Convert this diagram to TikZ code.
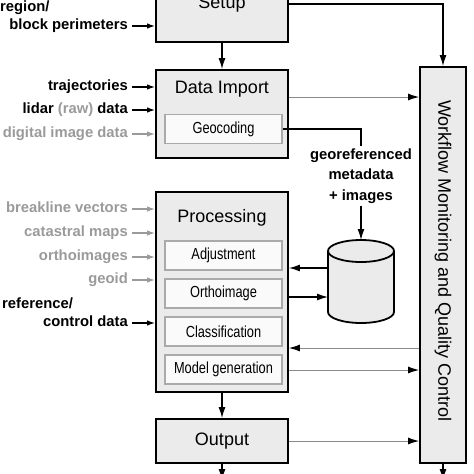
\documentclass[tikz,border=0pt]{standalone}
\usepackage{fontspec}
\setmainfont{Liberation Sans}
\newfontfamily\narrowfont[FakeStretch=0.8]{Liberation Sans}
\usetikzlibrary{arrows.meta}
\definecolor{boxfill}{HTML}{EBEBEB}
\definecolor{innerline}{HTML}{AAAAAA}
\definecolor{innerfill}{HTML}{FAFAFA}
\definecolor{txtgray}{HTML}{9A9A9A}
\definecolor{ctlgray}{HTML}{8A8A8A}
\begin{document}
\begin{tikzpicture}[x=1pt,y=-1pt,
  outerbox/.style={draw=black,line width=1.8pt,fill=boxfill,inner sep=0pt},
  innerbox/.style={draw=innerline,line width=1.3pt,fill=innerfill,minimum width=117pt,minimum height=29pt,inner sep=0pt,font=\narrowfont\fontsize{16}{18}\selectfont},
  boxtitle/.style={font=\fontsize{18}{21}\selectfont,inner sep=0pt,anchor=base},
  inlabel/.style={font=\bfseries\fontsize{14.8}{17}\selectfont,inner sep=0pt,anchor=east,text height=10.5pt,text depth=3pt},
  grayin/.style={inlabel,text=txtgray},
  arr/.style={-{Latex[length=8pt,width=5.5pt]},line width=1.3pt},
  bigarr/.style={-{Latex[length=11pt,width=7pt]},line width=1.3pt},
  grayarr/.style={arr,draw=txtgray,fill=txtgray},
  ctl/.style={-{Latex[length=11pt,width=7pt,color=black]},line width=1pt,draw=ctlgray}
]
\useasboundingbox (0,0) rectangle (474,474);
\clip (0,0) rectangle (474,474);

% main boxes
\node[outerbox,minimum width=132pt,minimum height=82pt] (setup) at (222,1) {};
\node[boxtitle] (setupT) at (222,8.5) {Setup};
\node[outerbox,minimum width=132pt,minimum height=88pt] (imp) at (222,114) {};
\node[boxtitle] (impT) at (222,93.5) {Data Import};
\node[innerbox] (geo) at (223.5,129) {Geocoding};
\node[outerbox,minimum width=132pt,minimum height=200pt] (proc) at (222,292) {};
\node[boxtitle] (procT) at (222,222) {Processing};
\node[innerbox] (adj) at (223.5,255.5) {Adjustment};
\node[innerbox] (ortho) at (223.5,293.5) {Orthoimage};
\node[innerbox] (cls) at (223.5,331.5) {Classification};
\node[innerbox] (model) at (223.5,369.5) {Model generation};
\node[outerbox,minimum width=132pt,minimum height=44pt,font=\fontsize{18}{21}\selectfont] (out) at (222,441) {Output};
\node[outerbox,minimum width=46pt,minimum height=396pt] (wf) at (443,265) {};
\node[font=\fontsize{18}{21}\selectfont,rotate=-90,inner sep=0pt] (wfT) at (443,261) {Workflow Monitoring and Quality Control};

% database cylinder
\path[fill=boxfill,draw=black,line width=1.8pt] (328,251) -- (328,312) arc[start angle=180,end angle=0,x radius=33,y radius=11] -- (394,251) arc[start angle=0,end angle=-180,x radius=33,y radius=11] -- cycle;
\draw[line width=1.8pt] (328,251) arc[start angle=180,end angle=0,x radius=33,y radius=11];
\coordinate (dbtop) at (361,240);
\coordinate (dbL1) at (328,268);
\coordinate (dbL2) at (328,297);

% input labels
\node[inlabel,anchor=west] (regionL) at (0,8) {region/};
\node[inlabel] (blockL) at (128,26) {block perimeters};
\node[inlabel] (trajL) at (128,87) {trajectories};
\node[inlabel] (lidarL) at (128,110) {lidar \textcolor{txtgray}{(raw)} data};
\node[grayin] (digL) at (128,134) {digital image data};
\node[grayin] (breakL) at (128,209) {breakline vectors};
\node[grayin] (catL) at (128,233) {catastral maps};
\node[grayin] (orthoL) at (128,257) {orthoimages};
\node[grayin] (geoidL) at (128,280) {geoid};
\node[inlabel,anchor=west] (refL) at (2,305) {reference/};
\node[inlabel] (ctrlL) at (128,323) {control data};

\draw[arr] ([xshift=4pt]blockL.east) -- (blockL.east -| setup.west);
\draw[arr] ([xshift=4pt]trajL.east) -- (trajL.east -| imp.west);
\draw[arr] ([xshift=4pt]lidarL.east) -- (lidarL.east -| imp.west);
\draw[grayarr] ([xshift=4pt]digL.east) -- (digL.east -| imp.west);
\draw[grayarr] ([xshift=4pt]breakL.east) -- (breakL.east -| proc.west);
\draw[grayarr] ([xshift=4pt]catL.east) -- (catL.east -| proc.west);
\draw[grayarr] ([xshift=4pt]orthoL.east) -- (orthoL.east -| proc.west);
\draw[grayarr] ([xshift=4pt]geoidL.east) -- (geoidL.east -| proc.west);
\draw[arr] ([xshift=4pt]ctrlL.east) -- (ctrlL.east -| proc.west);

% georeferenced metadata
\node[font=\bfseries\fontsize{14.8}{20.5}\selectfont,align=center,inner sep=2pt] (geoT) at (361,176) {georeferenced\\metadata\\+ images};
\draw[line width=1.3pt] (geo.east) -| (geoT.north);
\draw[bigarr] (geoT.south) -- (dbtop);
\draw[bigarr] (dbL1) -- (dbL1 -| proc.east);
\draw[bigarr] (dbL2 -| proc.east) -- (dbL2);

% main flow
\draw[bigarr] (setup) -- (imp);
\draw[bigarr] (proc) -- (out);
\coordinate (outEnd) at (222,480);
\coordinate (wfEnd) at (443,480);
\draw[bigarr] (out.south) -- (outEnd);
\draw[bigarr] (wf.south) -- (wfEnd);
\draw[bigarr] (setup.east |- 0,4) -| (wf.north);

% control connections
\draw[ctl] (imp.east |- 0,97) -- (wf.west |- 0,97);
\draw[ctl] (wf.west |- 0,348) -- (proc.east |- 0,348);
\draw[ctl] (proc.east |- 0,370) -- (wf.west |- 0,370);
\draw[ctl] (out.east) -- (out.east -| wf.west);
\end{tikzpicture}
\end{document}
